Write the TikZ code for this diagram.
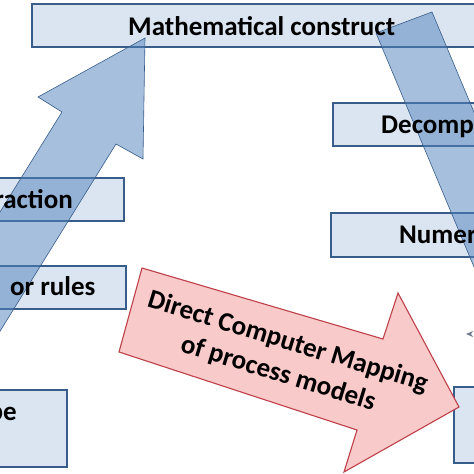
\documentclass[tikz,border=0pt]{standalone}
\usepackage{fontspec}
\setmainfont{Carlito}
\definecolor{boxfill}{HTML}{DBE5F1}
\definecolor{boxline}{HTML}{385D8A}
\definecolor{bluearrow}{HTML}{4F81BD}
\definecolor{redfill}{HTML}{F8CACA}
\definecolor{redline}{HTML}{BE4048}
\definecolor{tickgray}{HTML}{6E7C8C}
\tikzset{
  stagebox/.style={draw=boxline, line width=1.1pt, fill=boxfill},
  bandarrow/.style={draw=boxline, line width=0.6pt, fill=bluearrow, fill opacity=0.5},
  redarrow/.style={draw=redline, line width=1.1pt, fill=redfill},
  boxtext/.style={font=\bfseries\fontsize{27}{32}\selectfont, inner sep=0pt, anchor=base west},
  arrowtext/.style={font=\bfseries\fontsize{27}{33}\selectfont, align=center, rotate=-17, inner sep=0pt}
}
\begin{document}
\begin{tikzpicture}[x=1pt,y=-1pt]
\useasboundingbox (0,0) rectangle (474,474);
\clip (0,0) rectangle (474,474);
\fill[white] (0,0) rectangle (474,474);
% boxes
\path[stagebox] (32,4) rectangle (520,47);
\path[stagebox] (333,103) rectangle (520,146);
\path[stagebox] (-20,178) rectangle (124,221);
\path[stagebox] (-20,266) rectangle (126,309);
\path[stagebox] (-20,390) rectangle (67,467);
\path[stagebox] (331,213) rectangle (520,257);
\path[stagebox] (454,387) rectangle (520,463);
% blue arrows
\path[bandarrow] (145,38) -- (143,159) -- (116,144) -- (-117,520) -- (-191,520) -- (62,112) -- (38,97) -- cycle;
\path[bandarrow] (376,33) -- (432,12) -- (645,520) -- (580,520) -- cycle;
% box texts
\node[boxtext] (math) at (128,35) {Mathematical construct};
\node[boxtext] (decomp) at (381,133) {Decomp};
\node[boxtext, anchor=base east] (abstr) at (73,208) {raction};
\node[boxtext] (rules) at (10,295) {or rules};
\node[boxtext, anchor=base east] (proto) at (17,420) {pe};
\node[boxtext] (numer) at (399,243) {Numer};
% red arrow
\path[redarrow] (142,268) -- (383,339) -- (398,293) -- (459,407) -- (344,472) -- (357,430) -- (119,352) -- cycle;
\node[arrowtext] (dcm) at (283,358) {Direct Computer Mapping\\of process models};
% small mark
\fill[tickgray] (466,334) -- (473,331) -- (471,334) -- (473,337) -- cycle;
\end{tikzpicture}
\end{document}
